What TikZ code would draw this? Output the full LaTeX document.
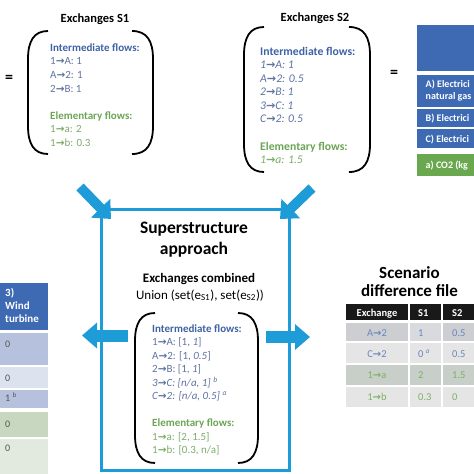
\documentclass[tikz,border=0pt]{standalone}
\usepackage{fontspec}
\setmainfont{Carlito}
\newfontfamily\arrowfont{DejaVu Sans}
\usetikzlibrary{arrows.meta}
\newcommand\ra{\scalebox{0.95}{\arrowfont\bfseries\char"2192}}
\newcommand\mybrackets[6]{%
  \draw[brk] (#4,#1) .. controls (#3+6,#1) and (#3,#1+10) .. (#3,#1+28) -- (#3,#2-28) .. controls (#3,#2-10) and (#3+6,#2) .. (#4,#2);
  \draw[brk] (#5,#1) .. controls (#6-6,#1) and (#6,#1+10) .. (#6,#1+28) -- (#6,#2-28) .. controls (#6,#2-10) and (#6-6,#2) .. (#5,#2);
}
\definecolor{arrowblue}{RGB}{30,156,215}
\definecolor{blueH}{RGB}{62,98,165}
\definecolor{blueI}{RGB}{95,115,160}
\definecolor{greenH}{RGB}{106,165,84}
\definecolor{greenI}{RGB}{125,172,105}
\definecolor{cellblue}{RGB}{62,106,180}
\definecolor{cellgreen}{RGB}{106,168,79}
\definecolor{lb1}{RGB}{182,193,222}
\definecolor{lb2}{RGB}{221,226,239}
\definecolor{lg1}{RGB}{200,216,192}
\definecolor{lg2}{RGB}{226,233,222}
\definecolor{tg1}{RGB}{204,206,209}
\definecolor{tg2}{RGB}{229,229,229}
\definecolor{tg3}{RGB}{200,206,200}
\definecolor{tblue}{RGB}{105,135,190}
\definecolor{tgreen}{RGB}{125,178,100}
\definecolor{cellgray}{RGB}{85,85,85}
\begin{document}
\begin{tikzpicture}[x=1pt,y=-1pt,
  brk/.style={draw=black,line width=1.8pt},
  ttl/.style={font=\bfseries\fontsize{12.5}{15}\selectfont,anchor=base,inner sep=0},
  eqs/.style={font=\bfseries\fontsize{16}{16}\selectfont,inner sep=0},
  ihead/.style={font=\bfseries\fontsize{11}{13}\selectfont,text=blueH,anchor=base west,inner sep=0},
  iitem/.style={font=\fontsize{11}{13}\selectfont,text=blueI,anchor=base west,inner sep=0},
  ghead/.style={font=\bfseries\fontsize{11}{13}\selectfont,text=greenH,anchor=base west,inner sep=0},
  gitem/.style={font=\fontsize{11}{13}\selectfont,text=greenI,anchor=base west,inner sep=0},
  ihead2/.style={ihead,font=\bfseries\fontsize{11.7}{13}\selectfont},
  iitem2/.style={iitem,font=\itshape\fontsize{11.7}{13}\selectfont},
  ghead2/.style={ghead,font=\bfseries\fontsize{11.7}{13}\selectfont},
  gitem2/.style={gitem,font=\itshape\fontsize{11.7}{13}\selectfont},
  bigarrow/.style={draw=arrowblue,line width=10pt,-{Triangle[length=15pt,width=26pt]}},
  harrow/.style={draw=arrowblue,line width=12pt,-{Triangle[length=15pt,width=25pt]}},
  cell/.style={inner sep=0,outer sep=0,anchor=north west},
  wtxt/.style={text=white,font=\bfseries\fontsize{10}{12}\selectfont,anchor=base west,inner sep=0},
  ctxt/.style={text=cellgray,font=\fontsize{10}{12}\selectfont,anchor=base west,inner sep=0},
  ttxt/.style={font=\fontsize{10.5}{12}\selectfont,inner sep=0,anchor=base}
]
\useasboundingbox (0,0) rectangle (474,474);

% ---------- top-left: Exchanges S1 ----------
\node[eqs] (eq1) at (9,79) {=};
\node[ttl] (t1) at (95,22) {Exchanges S1};
\mybrackets{31}{154}{28}{48}{132}{153}
\node[ihead] (s1a) at (50,51) {Intermediate flows:};
\node[iitem] (s1b) at (50,64.5) {1\ra A: 1};
\node[iitem] (s1c) at (50,78) {A\ra 2: 1};
\node[iitem] (s1d) at (50,92) {2\ra B: 1};
\node[ghead] (s1e) at (50,119) {Elementary flows:};
\node[gitem] (s1f) at (50,132.5) {1\ra a: 2};
\node[gitem] (s1g) at (50,146) {1\ra b: 0.3};

% ---------- top-middle: Exchanges S2 ----------
\node[ttl] (t2) at (315,21) {Exchanges S2};
\mybrackets{27}{172}{244}{264}{349}{370}
\node[ihead2] (s2a) at (260,55) {Intermediate flows:};
\node[iitem2] (s2b) at (260,68.5) {1\ra A: 1};
\node[iitem2] (s2c) at (260,82) {A\ra 2: 0.5};
\node[iitem2] (s2d) at (260,95.5) {2\ra B: 1};
\node[iitem2] (s2e) at (260,109) {3\ra C: 1};
\node[iitem2] (s2f) at (260,122.5) {C\ra 2: 0.5};
\node[ghead2] (s2g) at (260,150) {Elementary flows:};
\node[gitem2] (s2h) at (260,163.5) {1\ra a: 1.5};
\node[eqs] (eq2) at (394,73.5) {=};

% ---------- top-right table (cropped) ----------
\node[cell,fill=cellblue,minimum width=62pt,minimum height=46pt] (rh) at (417,25) {};
\node[cell,fill=cellblue,minimum width=62pt,minimum height=32pt] (ra) at (417,75) {};
\node[cell,fill=cellblue,minimum width=62pt,minimum height=18pt] (rb) at (417,109) {};
\node[cell,fill=cellblue,minimum width=62pt,minimum height=19pt] (rc) at (417,129) {};
\node[cell,fill=cellgreen,minimum width=62pt,minimum height=22pt] (rg) at (417,154) {};
\node[wtxt,align=left,anchor=north west,font=\bfseries\fontsize{10}{12}\selectfont] (rat) at (425.5,80) {A) Electrici\\natural gas};
\node[wtxt] (rbt) at (425.5,121.5) {B) Electrici};
\node[wtxt] (rct) at (425.5,142.5) {C) Electrici};
\node[wtxt] (rgt) at (425.5,168.5) {a) CO2 (kg};

% ---------- left table (cropped) ----------
\node[cell,fill=cellblue,minimum width=50pt,minimum height=47pt] (lh) at (-2,283) {};
\node[cell,fill=lb1,minimum width=50pt,minimum height=32pt] (l1) at (-2,333) {};
\node[cell,fill=lb2,minimum width=50pt,minimum height=21pt] (l2) at (-2,367) {};
\node[cell,fill=lb1,minimum width=50pt,minimum height=18pt] (l3) at (-2,390) {};
\node[cell,fill=lg1,minimum width=50pt,minimum height=25pt] (l4) at (-2,412) {};
\node[cell,fill=lg2,minimum width=50pt,minimum height=36pt] (l5) at (-2,439) {};
\node[wtxt,align=left,anchor=north west,font=\bfseries\fontsize{11}{13}\selectfont] (lht) at (5,288) {3)\\Wind\\turbine};
\node[ctxt] (l1t) at (5,347) {0};
\node[ctxt] (l2t) at (5,381) {0};
\node[ctxt] (l3t) at (5,401) {1 \textsuperscript{b}};
\node[ctxt] (l4t) at (5,427) {0};
\node[ctxt] (l5t) at (5,451) {0};

% ---------- superstructure box ----------
\node[draw=arrowblue,line width=3pt,minimum width=188pt,minimum height=261pt,inner sep=0] (box) at (195,339.5) {};
\node[font=\bfseries\fontsize{17.5}{20.5}\selectfont,align=center,anchor=north,inner sep=0] (sup) at (194,222) {Superstructure\\approach};
\node[font=\bfseries\fontsize{13}{15}\selectfont,anchor=base,inner sep=0] (exc) at (199,282.5) {Exchanges combined};
\node[font=\fontsize{13}{15}\selectfont,anchor=base,inner sep=0] (uni) at (200,299) {Union (set(e\textsubscript{S1}), set(e\textsubscript{S2}))};
\mybrackets{313}{463}{135}{155}{238}{258}
\node[ihead] (c1) at (152,332) {Intermediate flows:};
\node[iitem] (c2) at (152,345.5) {1\ra A: [1, \textit{1}]};
\node[iitem] (c3) at (152,359) {A\ra 2: [1, \textit{0.5}]};
\node[iitem] (c4) at (152,372.5) {2\ra B: [1, \textit{1}]};
\node[iitem] (c5) at (152,386) {\textit{3\ra C: [n/a, 1]} \textsuperscript{\textit{b}}};
\node[iitem] (c6) at (152,399.5) {\textit{C\ra 2: [n/a, 0.5]} \textsuperscript{\textit{a}}};
\node[ghead] (c7) at (152,426.5) {Elementary flows:};
\node[gitem] (c8) at (152,440) {1\ra a: [2, 1.5]};
\node[gitem] (c9) at (152,453.5) {1\ra b: [0.3, n/a]};

% ---------- big arrows ----------
\coordinate (tlS) at (80,187);
\coordinate (tlE) at (111,219);
\coordinate (trS) at (312,188);
\coordinate (trE) at (280,219);
\coordinate (lS) at (128,335.5);
\coordinate (lE) at (82,335.5);
\coordinate (rS) at (266,337);
\coordinate (rE) at (310,337);
\draw[bigarrow] (tlS) -- (tlE);
\draw[bigarrow] (trS) -- (trE);
\draw[harrow] (lS) -- (lE);
\draw[harrow] (rS) -- (rE);

% ---------- scenario difference file ----------
\node[font=\bfseries\fontsize{17}{18}\selectfont,align=center,anchor=north,inner sep=0] (sc) at (409.5,266) {Scenario\\difference file};
\node[cell,fill=black!90,minimum width=62pt,minimum height=16pt] (hE) at (346,304) {};
\node[cell,fill=black!90,minimum width=31pt,minimum height=16pt] (hS1) at (410,304) {};
\node[cell,fill=black!90,minimum width=35pt,minimum height=16pt] (hS2) at (443,304) {};
\node[cell,fill=tg1,minimum width=62pt,minimum height=18pt] (aE) at (346,323) {};
\node[cell,fill=tg1!75,minimum width=31pt,minimum height=18pt] (aS1) at (410,323) {};
\node[cell,fill=tg1,minimum width=35pt,minimum height=18pt] (aS2) at (443,323) {};
\node[cell,fill=tg2,minimum width=62pt,minimum height=20pt] (bE) at (346,343) {};
\node[cell,fill=tg2,minimum width=31pt,minimum height=20pt] (bS1) at (410,343) {};
\node[cell,fill=tg2,minimum width=35pt,minimum height=20pt] (bS2) at (443,343) {};
\node[cell,fill=tg3,minimum width=62pt,minimum height=20pt] (cE) at (346,365) {};
\node[cell,fill=tg3,minimum width=31pt,minimum height=20pt] (cS1) at (410,365) {};
\node[cell,fill=tg3,minimum width=35pt,minimum height=20pt] (cS2) at (443,365) {};
\node[cell,fill=tg2,minimum width=62pt,minimum height=20pt] (dE) at (346,387) {};
\node[cell,fill=tg2,minimum width=31pt,minimum height=20pt] (dS1) at (410,387) {};
\node[cell,fill=tg2,minimum width=35pt,minimum height=20pt] (dS2) at (443,387) {};
\node[ttxt,text=white,font=\bfseries\fontsize{10.5}{12}\selectfont] (hEt) at (377,316) {Exchange};
\node[ttxt,text=white,font=\bfseries\fontsize{10.5}{12}\selectfont,anchor=base west] (hS1t) at (418,316) {S1};
\node[ttxt,text=white,font=\bfseries\fontsize{10.5}{12}\selectfont,anchor=base west] (hS2t) at (452,316) {S2};
\node[ttxt,text=tblue] (aEt) at (377,336) {A\ra 2};
\node[ttxt,text=tblue,anchor=base west] (aS1t) at (418,336) {1};
\node[ttxt,text=tblue,anchor=base west] (aS2t) at (452,336) {0.5};
\node[ttxt,text=tblue] (bEt) at (377,357) {C\ra 2};
\node[ttxt,text=tblue,anchor=base west] (bS1t) at (418,357) {0 \textsuperscript{\textit{a}}};
\node[ttxt,text=tblue,anchor=base west] (bS2t) at (452,357) {0.5};
\node[ttxt,text=tgreen] (cEt) at (377,378.5) {1\ra a};
\node[ttxt,text=tgreen,anchor=base west] (cS1t) at (418,378.5) {2};
\node[ttxt,text=tgreen,anchor=base west] (cS2t) at (452,378.5) {1.5};
\node[ttxt,text=tgreen] (dEt) at (377,400.5) {1\ra b};
\node[ttxt,text=tgreen,anchor=base west] (dS1t) at (418,400.5) {0.3};
\node[ttxt,text=tgreen,anchor=base west] (dS2t) at (452,400.5) {0};
\end{tikzpicture}
\end{document}
